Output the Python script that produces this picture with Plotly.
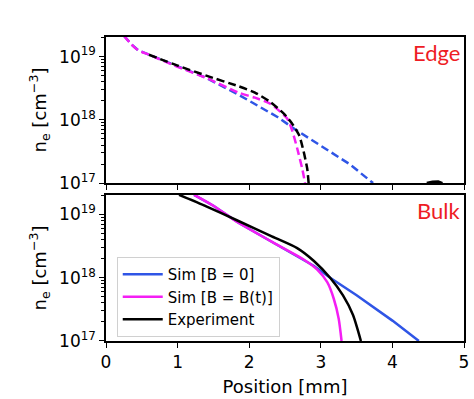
import plotly.graph_objects as go

# ---------------- data ----------------
# Edge (dashed)
edge_b0_x = [0.25, 0.35, 0.45, 0.6, 1.0, 1.4, 1.85, 2.12, 2.4, 2.63, 3.0, 3.4, 3.73]
edge_b0_y = [2.14e19, 1.58e19, 1.26e19, 1.07e19, 6.9e18, 4.6e18, 2.5e18, 1.66e18, 1.1e18, 7.2e17, 3.9e17, 2.0e17, 1.0e17]

edge_bt_x = [0.25, 0.35, 0.45, 0.6, 1.0, 1.4, 1.85, 2.08, 2.3, 2.53, 2.6, 2.67, 2.74, 2.78]
edge_bt_y = [2.14e19, 1.58e19, 1.26e19, 1.07e19, 6.9e18, 4.6e18, 2.7e18, 2.24e18, 1.78e18, 1.05e18, 6.8e17, 3.55e17, 1.7e17, 1.0e17]

edge_exp_x = [0.6, 1.0, 1.4, 1.85, 2.08, 2.3, 2.49, 2.6, 2.7, 2.76, 2.81, 2.83]
edge_exp_y = [1.07e19, 7.2e18, 5.0e18, 3.4e18, 2.7e18, 1.9e18, 1.23e18, 8.7e17, 5.6e17, 3.16e17, 1.7e17, 1.0e17]

edge_exp_tail_x = [4.48, 4.56, 4.64, 4.7]
edge_exp_tail_y = [1.0e17, 1.05e17, 1.06e17, 1.0e17]

# Bulk (solid)
bulk_b0_x = [1.23, 1.5, 1.85, 2.3, 2.76, 2.9, 3.13, 3.5, 4.0, 4.37]
bulk_b0_y = [2.05e19, 1.38e19, 7.4e18, 3.8e18, 1.95e18, 1.55e18, 1.0e18, 5.3e17, 2.1e17, 1.0e17]

bulk_bt_x = [1.23, 1.5, 1.85, 2.3, 2.76, 2.95, 3.09, 3.18, 3.25, 3.29]
bulk_bt_y = [2.05e19, 1.38e19, 7.4e18, 3.8e18, 1.95e18, 1.35e18, 8.5e17, 4.7e17, 2.24e17, 1.0e17]

bulk_exp_x = [1.02, 1.4, 1.85, 2.3, 2.67, 2.9, 3.13, 3.31, 3.45, 3.56]
bulk_exp_y = [2.05e19, 1.35e19, 7.9e18, 4.6e18, 2.95e18, 1.86e18, 1.0e18, 5.25e17, 2.57e17, 1.0e17]

series_names = ["Sim [B = 0]", "Sim [B = B(t)]", "Experiment"]
panel_labels = ["Edge", "Bulk"]

y_tickvals = [1e17, 1e18, 1e19]
y_ticktext = ["10<sup>17</sup>", "10<sup>18</sup>", "10<sup>19</sup>"]
y_minor = [float(m) * 10.0 ** e for e in (17, 18, 19) for m in range(2, 10)]
x_tickvals = [0, 1, 2, 3, 4, 5]

BLUE = "#2f55e6"
MAGENTA = "#f41ef4"
BLACK = "#000000"
FONT = "DejaVu Sans"

fig = go.Figure()

dash = "8px,4px"
W = 2.5
SM = 0.6
fig.add_trace(go.Scatter(x=edge_b0_x, y=edge_b0_y, mode="lines",
                         line=dict(color=BLUE, width=W, dash=dash),
                         showlegend=False, xaxis="x", yaxis="y"))
fig.add_trace(go.Scatter(x=edge_bt_x, y=edge_bt_y, mode="lines",
                         line=dict(color=MAGENTA, width=W, dash=dash, shape="spline", smoothing=SM),
                         showlegend=False, xaxis="x", yaxis="y"))
fig.add_trace(go.Scatter(x=edge_exp_x, y=edge_exp_y, mode="lines",
                         line=dict(color=BLACK, width=W, dash=dash, shape="spline", smoothing=SM),
                         showlegend=False, xaxis="x", yaxis="y"))
fig.add_trace(go.Scatter(x=edge_exp_tail_x, y=edge_exp_tail_y, mode="lines", line=dict(color=BLACK, width=W),
                         showlegend=False, xaxis="x", yaxis="y"))

for xs, ys, col, nm, grp, shp in [(bulk_b0_x, bulk_b0_y, BLUE, series_names[0], "g0", "linear"),
                                  (bulk_bt_x, bulk_bt_y, MAGENTA, series_names[1], "g1", "spline"),
                                  (bulk_exp_x, bulk_exp_y, BLACK, series_names[2], "g2", "spline")]:
    fig.add_trace(go.Scatter(x=xs, y=ys, mode="lines",
                             line=dict(color=col, width=W, shape=shp, smoothing=SM),
                             name=nm, legendgroup=grp, xaxis="x2", yaxis="y2"))

axis_common = dict(showline=True, linecolor="black", linewidth=1.5, mirror=True,
                   ticks="outside", ticklen=5, tickwidth=1.2, tickcolor="black",
                   showgrid=False, zeroline=False,
                   tickfont=dict(family=FONT, size=17, color="black"))

yaxis_common = dict(axis_common, type="log", range=[17, 19.31], tickmode="array",
                    tickvals=y_tickvals, ticktext=y_ticktext,
                    minor=dict(tickmode="array", tickvals=y_minor, ticks="outside", ticklen=3,
                               tickwidth=1, tickcolor="black", showgrid=False),
                    title=dict(text="n<sub>e</sub> [cm<sup>−3</sup>]", standoff=8,
                               font=dict(family=FONT, size=18, color="black")))

fig.update_layout(
    width=474, height=399,
    margin=dict(l=106, r=5, t=37, b=54),
    paper_bgcolor="white", plot_bgcolor="white",
    font=dict(family=FONT, size=17, color="black"),
    xaxis=dict(axis_common, domain=[0, 1], range=[0, 5], tickvals=x_tickvals, showticklabels=False,
               anchor="y"),
    yaxis=dict(yaxis_common, domain=[0.5195, 1], anchor="x"),
    xaxis2=dict(axis_common, domain=[0, 1], range=[0, 5], tickvals=x_tickvals, anchor="y2",
                title=dict(text="Position [mm]", standoff=9, font=dict(family=FONT, size=18, color="black"))),
    yaxis2=dict(yaxis_common, domain=[0, 0.4805], anchor="x2"),
    legend=dict(x=0.03, y=0.276, xanchor="left", yanchor="top",
                bgcolor="rgba(255,255,255,0.9)", bordercolor="#d0d0d0", borderwidth=1,
                font=dict(family=FONT, size=15, color="black"), tracegroupgap=0, itemwidth=40),
    annotations=[
        dict(text=panel_labels[0], xref="paper", yref="paper", x=0.995, y=1.0, xanchor="right", yanchor="top",
             showarrow=False, font=dict(family="Lato", size=22, color="#ee1c24")),
        dict(text=panel_labels[1], xref="paper", yref="paper", x=0.995, y=0.48, xanchor="right", yanchor="top",
             showarrow=False, font=dict(family="Lato", size=22, color="#ee1c24")),
    ],
)

fig.write_html("out.html", config={"displayModeBar": False},
               post_script="document.body.style.margin='0px';document.body.style.overflow='hidden';")
